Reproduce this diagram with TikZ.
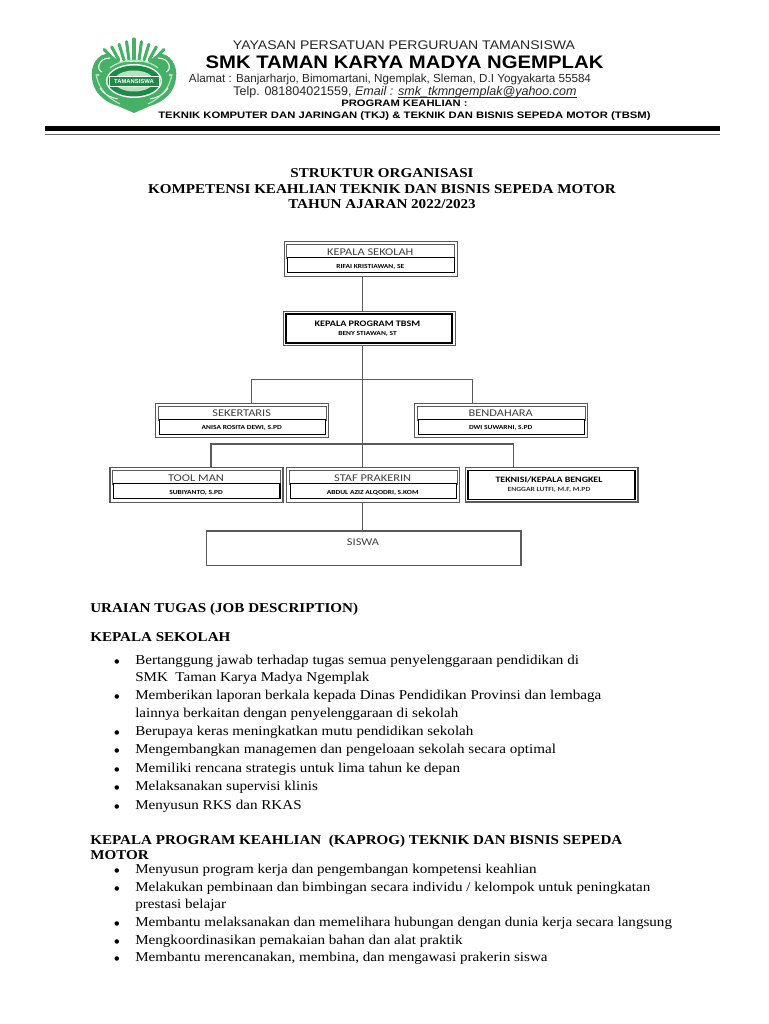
\documentclass[tikz,border=0pt]{standalone}
\usepackage{fontspec}
\setmainfont{Liberation Serif}[FakeStretch=1.115]
\newfontfamily\hdrf{Liberation Sans}
\newfontfamily\hdrw{Liberation Sans}[FakeStretch=1.12]
\newfontfamily\hdrx{Liberation Sans}[FakeStretch=1.2]
\newfontfamily\calf{Carlito}[FakeStretch=1.2]
\newfontfamily\symf{DejaVu Sans}
\definecolor{lgreen}{HTML}{45B066}
\definecolor{lpale}{HTML}{B5E3BC}
\definecolor{dgreen}{HTML}{1E8A48}
\definecolor{boxgray}{HTML}{5A5A5A}
\tikzset{
 x=0.75pt,y=-0.75pt,
 txt/.style={anchor=base west,inner sep=0pt,font=\fontsize{10.15}{13}\selectfont},
 hd/.style={txt,font=\bfseries\fontsize{10.15}{13}\selectfont},
 ttl/.style={anchor=base,inner sep=0pt,font=\bfseries\fontsize{10.15}{13}\selectfont},
 bul/.style={anchor=base,inner sep=0pt,font=\symf\fontsize{4.4}{6}\selectfont},
 hsan/.style={anchor=base,inner sep=0pt,text=black!85},
 outerb/.style={draw=boxgray,line width=1pt,fill=white,inner sep=0pt,outer sep=0pt},
 inbox/.style={draw=black,line width=0.8pt,fill=white},
 upbox/.style={draw=boxgray,line width=0.8pt,fill=white},
 conn/.style={draw=boxgray,line width=1pt},
 bigt/.style={anchor=base,inner sep=0pt,font=\calf\fontsize{7.75}{9}\selectfont,text=black!75},
 smallt/.style={anchor=base,inner sep=0pt,font=\calf\bfseries\fontsize{4.67}{6}\selectfont},
}
% name, x0, y0, width, height: the outer frame as a named node
\newcommand{\outernode}[5]{%
 \node[outerb,minimum width={(#4)*0.75pt},minimum height={(#5)*0.75pt}] (#1) at (#2+#4/2,#3+#5/2) {};
}
\newcommand{\orgbox}[5]{% name, x0, y0, title, person
 \outernode{#1}{#2}{#3}{173}{34.5}
 \path[upbox] (#2+2.5,#3+3) rectangle (#2+170.5,#3+17);
 \path[inbox] (#2+3.5,#3+16) rectangle (#2+170,#3+31);
 \node[bigt] (#1-t) at (#2+86,#3+13.5) {#4};
 \node[smallt] (#1-p) at (#2+86,#3+26.5) {#5};
}
\begin{document}
\begin{tikzpicture}
\useasboundingbox (0,0) rectangle (768,1024);
\fill[white] (0,0) rectangle (768,1024);
% logo
\begin{scope}[shift={(134,78)}]
 \foreach \a in {-48,-36,-24,-12,0,12,24,36,48}{
  \draw[lgreen,line width=2.3pt,line cap=round] (\a*0.42,-18) -- (\a*0.62,{-39+abs(\a)*0.22});
 }
 \fill[lgreen] (-24,-24) .. controls (-36,-26) and (-44,-12) .. (-42,0)
   .. controls (-41,14) and (-30,24) .. (-16,28) -- (0,35) -- (16,28)
   .. controls (30,24) and (41,14) .. (42,0)
   .. controls (44,-12) and (36,-26) .. (24,-24) -- (14,-16) -- (-14,-16) -- cycle;
 \foreach \a in {-1,1}{
  \draw[white,line width=0.8pt] (\a*24,-20) .. controls (\a*36,-20) and (\a*38,-8) .. (\a*32,-6);
  \draw[lpale,line width=0.9pt] (\a*38,-4) .. controls (\a*36,8) and (\a*30,18) .. (\a*14,26);
  \draw[white,line width=0.7pt] (\a*34,10) .. controls (\a*30,17) and (\a*22,20) .. (\a*16,21);
  \fill[lpale] (\a*36,-3) circle (1.5);
 }
 \draw[lpale,line width=1pt] (-24,-10) .. controls (-12,-20) and (12,-20) .. (24,-10);
 \fill[white] (0,3) ellipse (28 and 17);
 \fill[dgreen] (0,3) ellipse (26.5 and 15.5);
 \fill[lpale] (0,3) ellipse (20 and 10.5);
 \fill[dgreen] (-25,-1.5) rectangle (25,8);
 \draw[white,line width=0.5pt] (-25,-1.5) rectangle (25,8);
 \node[inner sep=0pt,text=white,font=\hdrf\bfseries\fontsize{4.4}{6}\selectfont] (logotext) at (0,3.3) {TAMANSISWA};
\end{scope}
% letterhead
\node[hsan,font=\hdrw\fontsize{9.4}{12}\selectfont] (h1) at (404,49.5) {YAYASAN PERSATUAN PERGURUAN TAMANSISWA};
\node[hsan,font=\hdrw\bfseries\fontsize{13.6}{17}\selectfont,text=black] (h2) at (404.5,69) {SMK TAMAN KARYA MADYA NGEMPLAK};
\node[hsan,font=\hdrf\fontsize{8.75}{11}\selectfont] (h3) at (390,83) {Alamat : Banjarharjo, Bimomartani, Ngemplak, Sleman, D.I Yogyakarta 55584};
\node[hsan,font=\hdrf\fontsize{9.4}{11}\selectfont] (h4) at (405,95.5) {Telp. 081804021559, \textit{Email : \underline{\smash{smk\_tkmngemplak@yahoo.com}}}};
\node[hsan,font=\hdrx\bfseries\fontsize{7}{9}\selectfont,text=black] (h5) at (404.5,107) {PROGRAM KEAHLIAN :};
\node[hsan,font=\hdrx\bfseries\fontsize{7.04}{9}\selectfont,text=black] (h6) at (404.5,118) {TEKNIK KOMPUTER DAN JARINGAN (TKJ) \& TEKNIK DAN BISNIS SEPEDA MOTOR (TBSM)};
\fill[black] (45,126) rectangle (720,131);
\fill[black!60] (45,134) rectangle (720,135.2);
% title
\node[ttl] (t1) at (382,177) {STRUKTUR ORGANISASI};
\node[ttl] (t2) at (382,193) {KOMPETENSI KEAHLIAN TEKNIK DAN BISNIS SEPEDA MOTOR};
\node[ttl] (t3) at (382,208) {TAHUN AJARAN 2022/2023};
% org boxes
\orgbox{ks}{284.3}{241.7}{KEPALA SEKOLAH}{RIFAI KRISTIAWAN, SE}
\outernode{kp}{283.5}{311.7}{172.2}{33.8}
\path[inbox,line width=1pt] (286,314) rectangle (452,343);
\node[anchor=base,inner sep=0pt,font=\calf\bfseries\fontsize{6.33}{9}\selectfont] (kp1) at (367.5,326.5) {KEPALA PROGRAM TBSM};
\node[smallt] (kp2) at (367.5,335) {BENY STIAWAN, ST};
\orgbox{sek}{155.7}{403.3}{SEKERTARIS}{ANISA ROSITA DEWI, S.PD}
\orgbox{ben}{414.7}{403.3}{BENDAHARA}{DWI SUWARNI, S.PD}
\orgbox{tool}{110}{467.7}{TOOL MAN}{SUBIYANTO, S.PD}
\orgbox{staf}{286.7}{467.7}{STAF PRAKERIN}{ABDUL AZIZ ALQODRI, S.KOM}
\outernode{tek}{465.3}{467.7}{172.7}{34.3}
\path[inbox,line width=1pt] (468,470.5) rectangle (635,499.5);
\node[anchor=base,inner sep=0pt,font=\calf\bfseries\fontsize{6.2}{9}\selectfont] (tk1) at (549,482.5) {TEKNISI/KEPALA BENGKEL};
\node[anchor=base,inner sep=0pt,font=\calf\bfseries\fontsize{4.75}{6}\selectfont,text=black!80] (tk2) at (549,491) {ENGGAR LUTFI, M.F, M.PD};
\outernode{sis}{206.3}{531}{314.7}{34.3}
\node[bigt] (sis-t) at (363,545) {SISWA};
% connectors
\coordinate (spine) at (362.3,300);
\coordinate (bus1) at (362.3,379.7);
\coordinate (bus2) at (362.3,444);
\coordinate (sekport) at (251.7,403.3);
\coordinate (benport) at (472.3,403.3);
\coordinate (toolport) at (211,467.7);
\coordinate (tekport) at (513.3,467.7);
\draw[conn] (spine |- ks.south) -- (spine |- kp.north);
\draw[conn] (spine |- kp.south) -- (spine |- staf.north);
\draw[conn] (spine |- staf.south) -- (spine |- sis.north);
\draw[conn] (sekport) |- (bus1) -| (benport);
\draw[conn] (toolport) |- (bus2) -| (tekport);
% body
\node[hd] (u1) at (90,612) {URAIAN TUGAS (JOB DESCRIPTION)};
\node[hd] (u2) at (90,641) {KEPALA SEKOLAH};
\node[bul] (b1) at (117,663) {●};
\node[txt] (a1) at (135,664) {Bertanggung jawab terhadap tugas semua penyelenggaraan pendidikan di};
\node[txt] (a1b) at (135,681) {SMK~ Taman Karya Madya Ngemplak};
\node[bul] (b2) at (117,698) {●};
\node[txt] (a2) at (135,699) {Memberikan laporan berkala kepada Dinas Pendidikan Provinsi dan lembaga};
\node[txt] (a2b) at (135,717) {lainnya berkaitan dengan penyelenggaraan di sekolah};
\node[bul] (b3) at (117,734) {●};
\node[txt] (a3) at (135,735) {Berupaya keras meningkatkan mutu pendidikan sekolah};
\node[bul] (b4) at (117,752) {●};
\node[txt] (a4) at (135,753) {Mengembangkan managemen dan pengeloaan sekolah secara optimal};
\node[bul] (b5) at (117,771) {●};
\node[txt] (a5) at (135,772) {Memiliki rencana strategis untuk lima tahun ke depan};
\node[bul] (b6) at (117,789) {●};
\node[txt] (a6) at (135,790) {Melaksanakan supervisi klinis};
\node[bul] (b7) at (117,808) {●};
\node[txt] (a7) at (135,809) {Menyusun RKS dan RKAS};
\node[hd] (u3) at (90,844) {KEPALA PROGRAM KEAHLIAN~ (KAPROG) TEKNIK DAN BISNIS SEPEDA};
\node[hd] (u4) at (90,859) {MOTOR};
\node[bul] (c1) at (117,872) {●};
\node[txt] (d1) at (135,873) {Menyusun program kerja dan pengembangan kompetensi keahlian};
\node[bul] (c2) at (117,890) {●};
\node[txt] (d2) at (135,891) {Melakukan pembinaan dan bimbingan secara individu / kelompok untuk peningkatan};
\node[txt] (d2b) at (135,908) {prestasi belajar};
\node[bul] (c3) at (117,925) {●};
\node[txt] (d3) at (135,926) {Membantu melaksanakan dan memelihara hubungan dengan dunia kerja secara langsung};
\node[bul] (c4) at (117,943) {●};
\node[txt] (d4) at (135,944) {Mengkoordinasikan pemakaian bahan dan alat praktik};
\node[bul] (c5) at (117,960) {●};
\node[txt] (d5) at (135,961) {Membantu merencanakan, membina, dan mengawasi prakerin siswa};
\end{tikzpicture}
\end{document}
